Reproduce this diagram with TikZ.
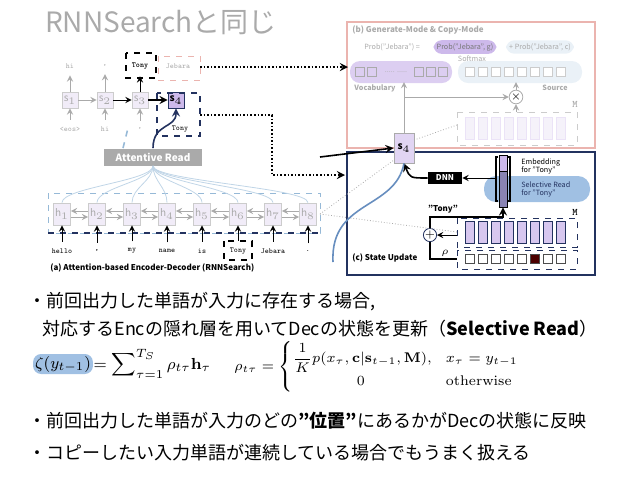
\documentclass[tikz,border=0pt]{standalone}
\usepackage{amsmath}
\usepackage[no-math]{fontspec}
\setmainfont{Noto Sans CJK JP}
\usetikzlibrary{calc,positioning,arrows,shapes}
\definecolor{lgray}{RGB}{170,170,170}
\definecolor{lpurple}{RGB}{235,228,245}
\definecolor{mpurple}{RGB}{205,185,235}
\definecolor{navy}{RGB}{35,50,95}
\definecolor{lblue}{RGB}{150,185,215}
\definecolor{hblue}{RGB}{120,165,215}
\definecolor{pinkline}{RGB}{235,180,175}
\tikzset{
    tiny/.style={font=\fontsize{3.6}{4}\selectfont},
    hbox/.style={rectangle, draw=lgray!60, fill=lpurple!70, minimum width=8.5pt, minimum height=11pt, inner sep=0pt, text=lgray, font=\fontsize{5}{5}\selectfont\itshape},
    sbox/.style={rectangle, draw=lgray!60, fill=lpurple!70, minimum width=8pt, minimum height=8pt, inner sep=0pt, text=lgray, font=\fontsize{5}{5}\selectfont\itshape},
    word/.style={tiny, font=\fontsize{3.8}{4}\ttfamily},
    line/.style={->, >=stealth, thin},
    gline/.style={->, >=stealth, thin, lgray},
    cell/.style={rectangle, draw=mpurple!80, fill=lpurple, minimum width=4.5pt, minimum height=11pt, inner sep=0pt},
    sq/.style={rectangle, draw=black!70, fill=white, minimum width=4.5pt, minimum height=4.5pt, inner sep=0pt},
    dash box/.style={draw=navy, dashed, thick},
    bullet/.style={anchor=west, font=\fontsize{9}{10}\selectfont, inner sep=0pt},
}
\begin{document}
\begin{tikzpicture}[x=0.5pt,y=-0.5pt]
    \useasboundingbox (0,0) rectangle (638,479);

    % Title
    \node[anchor=west, text=lgray, font=\fontsize{14}{14}\selectfont] (title) at (38,22) {RNNSearchと同じ};

    % ---------- (a) encoder ----------
    \draw[lblue, dashed] (48,193) rectangle (320,233);
    \draw[navy, dashed, thick] (48,233) -- (320,233);
    \foreach \i/\w [count=\k] in {62/hello,97/{,},132/my,167/name,202/is,238/Tony,273/Jebara,308/.} {
        \node[hbox] (h\k) at (\i,214) {h$_{\k}$};
        \node[word] (w\k) at (\i,251) {\w};
        \draw[line] (w\k.north) -- (h\k.south);
    }
    \foreach \a/\b in {1/2,2/3,3/4,4/5,5/6,6/7,7/8} {
        \draw[gline] ($(h\a.east)+(0,3)$) -- ($(h\b.west)+(0,3)$);
        \draw[gline] ($(h\b.west)+(0,-3)$) -- ($(h\a.east)+(0,-3)$);
    }
    \draw[thick, dashed] (224,241) rectangle (252,260);
    \node[anchor=west, font=\fontsize{4}{4}\selectfont\bfseries, inner sep=0pt] (capa) at (50,268) {(a) Attention-based Encoder-Decoder (RNNSearch)};

    % attentive read
    \node[fill=lgray, text=white, font=\fontsize{5}{5}\selectfont\bfseries, minimum width=49pt, minimum height=8.5pt, inner sep=0pt] (att) at (153,157) {Attentive Read};
    \foreach \k in {1,...,8} {
        \draw[lblue!60] (att.south) .. controls +(0,15) and +(0,-15) .. (h\k.north);
    }

    % decoder
    \foreach \x/\u/\d [count=\k] in {70/hi/{<eos>},105/{,}/hi,140/Tony/{,}} {
        \node[sbox] (s\k) at (\x,100) {s$_{\k}$};
        \node[word, text=lgray] (o\k) at (\x,66) {\u};
        \node[word, text=lgray] (i\k) at (\x,129) {\d};
        \draw[gline] (i\k) -- (s\k);
        \draw[gline] (s\k) -- (o\k);
    }
    \node[word] (o3b) at (140,66) {Tony};
    \node[sbox, draw=navy, fill=mpurple, text=black, font=\fontsize{5}{5}\selectfont\bfseries\itshape] (s4) at (176,100) {s$_4$};
    \node[word, text=lgray] (o4) at (178,66) {Jebara};
    \node[word] (i4) at (180,129) {Tony};
    \draw[gline] (s1) -- (s2);
    \draw[line] (s2) -- (s3);
    \draw[line, thick] (s3) -- (s4);
    \draw[line] (s3) -- (o3b);
    \draw[line, navy, thick] (att.north) .. controls +(0,-25) and +(0,20) .. (s4.south);
    \draw[lblue, dashed, thick] (att.north) ++(-30,0) -- +(5,-20);
    \draw[thick, dashed] (126,53) rectangle (156,78);
    \draw[pinkline, dashed] (158,56) rectangle (200,80);
    \draw[dash box] (157,93) rectangle (200,136);

    % ---------- (b) generate & copy ----------
    \draw[pinkline, thick] (347,22) rectangle (595,148);
    \node[anchor=west, text=lgray, font=\fontsize{4}{4}\selectfont\bfseries, inner sep=0pt] (capb) at (352,30) {(b) Generate-Mode \& Copy-Mode};
    \node[anchor=west, text=lgray, tiny, inner sep=0pt] (prob) at (364,47) {Prob("Jebara") =};
    \node[fill=mpurple, rounded corners=4pt, text=lgray!70!black, tiny, inner sep=1.5pt] (probg) at (465,47) {Prob("Jebara", g)};
    \node[fill=lblue!20, rounded corners=4pt, text=lgray, tiny, inner sep=1.5pt] (probc) at (540,47) {+ Prob("Jebara", c)};
    \node[fill=mpurple!70, rounded corners=5pt, minimum width=51pt, minimum height=11pt] (voc) at (401,72) {};
    \node[fill=lblue!20, rounded corners=5pt, minimum width=62pt, minimum height=11pt] (src) at (520,72) {};
    \foreach \x in {360,372,419,431,443} \node[sq, draw=lgray, fill=mpurple!70] at (\x,72) {};
    \node[tiny, text=lgray] (dots) at (396,72) {..... .....};
    \foreach \x in {470,483,496,509,522,535,548,561} \node[sq, draw=lgray!60, fill=white] at (\x,72) {};
    \node[tiny, text=lgray] (voclab) at (375,88) {\bfseries Vocabulary};
    \node[tiny, text=lgray] (srclab) at (555,88) {\bfseries Source};
    \node[tiny, text=lgray] (smax) at (472,59) {Softmax};
    \node[circle, draw=lgray, inner sep=0pt, minimum size=5pt] (otimes) at (516,97) {$\scriptscriptstyle\times$};
    \draw[dashed, lgray!60] (457,112) rectangle (577,145);
    \node[text=lgray, font=\fontsize{5}{5}\selectfont\ttfamily\bfseries] (M1) at (575,104) {M};
    \foreach \x in {470,483,496,509,522,535,548,561} \node[cell, fill=lpurple!50, draw=mpurple!40] at (\x,128) {};
    \draw[gline] (otimes) -- (516,82);
    \draw[gline] (516,112) -- (otimes);

    % ---------- (c) state update ----------
    \draw[navy, thick] (347,152) rectangle (595,275);
    \node[rectangle, draw=lgray, fill=mpurple!60, minimum width=10pt, minimum height=15pt, inner sep=0pt, font=\fontsize{5}{5}\selectfont\bfseries\itshape] (s4r) at (404,148) {s$_4$};
    \draw[gline] (s4r.north) -- (404,82);
    \draw[gline] (404,97) -- (otimes);
    \node[fill=black, text=white, font=\fontsize{4}{4}\selectfont\bfseries, minimum width=17pt, minimum height=6pt, inner sep=0pt] (dnn) at (445,178) {DNN};
    \node[fill=hblue!70, rounded corners=6pt, minimum width=53pt, minimum height=13pt] (sel) at (537,189) {};
    \node[rectangle, draw=black, fill=mpurple, minimum width=4pt, minimum height=11pt, inner sep=0pt] (emb) at (503,166) {};
    \node[rectangle, draw=black, fill=mpurple!60!navy, minimum width=4pt, minimum height=18pt, inner sep=0pt] (sr) at (503,189) {};
    \draw[thick] (498,157) -- (496,157) -- (496,201) -- (498,201);
    \draw[thick] (508,157) -- (510,157) -- (510,201) -- (508,201);
    \node[anchor=west, tiny, align=left, inner sep=0pt] (embt) at (521,166) {Embedding\\for "Tony"};
    \node[anchor=west, tiny, align=left, inner sep=0pt, text=navy] (srt) at (521,189) {Selective Read\\for "Tony"};
    \draw[line] (496,178) -- (dnn.east);
    \draw[line, thick] (dnn.west) .. controls (410,178) .. (s4r.south);
    \node[tiny, font=\fontsize{4}{4}\selectfont\bfseries] (tony) at (443,209) {"Tony"};
    \node[font=\fontsize{5}{5}\selectfont\ttfamily\bfseries] (M2) at (575,212) {M};
    \draw[dash box, thin] (457,218) rectangle (577,247);
    \foreach \x in {470,483,496,509,522,535,548,561} \node[cell, fill=mpurple!80, draw=navy] at (\x,232) {};
    \draw[dash box, thin] (457,250) rectangle (577,269);
    \foreach \x [count=\k] in {470,483,496,509,522,535,548,561} \node[sq, fill=white] (q\k) at (\x,259) {};
    \node[sq, fill=black!70!red] (q6) at (535,259) {};
    \node[circle, draw=navy, inner sep=0pt, minimum size=6pt] (oplus) at (430,235) {$\scriptscriptstyle+$};
    \draw[line] (457,235) -- (oplus);
    \draw[thick] (457,259) -- (430,259) -- (oplus);
    \draw[line, thick] (oplus) -- (430,217) -- (503,217) -- (sr.south);
    \node[tiny] (rho) at (445,253) {$\rho$};
    \node[anchor=west, font=\fontsize{4}{4}\selectfont\bfseries, inner sep=0pt] (capc) at (352,258) {(c) State Update};

    % links between panels
    \draw[->, >=stealth, densely dotted, thick] (200,67) -- (348,67);
    \draw[->, >=stealth, densely dotted, thick] (200,115) -- (272,115) -- (272,175) -- (345,175);
    \draw[->, >=stealth, thick] (320,157) -- (s4r.west);
    \draw[lgray, densely dotted] (320,214) -- (457,232);
    \draw[lgray, densely dotted] (320,214) -- (394,160);
    \draw[lgray, densely dotted] (414,140) -- (457,125);
    \draw[hblue!80!navy, thick] (333,262) .. controls (330,200) and (395,210) .. (s4r.south);

    % ---------- bullets ----------
    \node[bullet] (b1) at (28,302) {・前回出力した単語が入力に存在する場合,};
    \node[bullet] (b1b) at (42,329) {対応するEncの隠れ層を用いてDecの状態を更新（\textbf{Selective Read}）};
    \node[fill=hblue!70, rounded corners=4pt, inner sep=1pt, font=\fontsize{8}{8}\selectfont] (zeta) at (63,364) {$\zeta(y_{t-1})$};
    \node[anchor=west, inner sep=0pt, font=\fontsize{8}{8}\selectfont] (eq1) at (zeta.east) {$=\displaystyle\sum\nolimits_{\tau=1}^{T_S}\rho_{t\tau}\mathbf{h}_\tau$};
    \node[anchor=west, inner sep=0pt, font=\fontsize{7}{7.5}\selectfont] (eq2) at (234,367) {$\rho_{t\tau}=\begin{cases}\dfrac{1}{K}p(x_\tau,\mathbf{c}|\mathbf{s}_{t-1},\mathbf{M}), & x_\tau=y_{t-1}\\ \hfill 0\hfill\ & \mathrm{otherwise}\end{cases}$};
    \node[bullet] (b2) at (28,421) {・前回出力した単語が入力のどの\textbf{”位置”}にあるかがDecの状態に反映};
    \node[bullet] (b3) at (28,453) {・コピーしたい入力単語が連続している場合でもうまく扱える};
\end{tikzpicture}
\end{document}
